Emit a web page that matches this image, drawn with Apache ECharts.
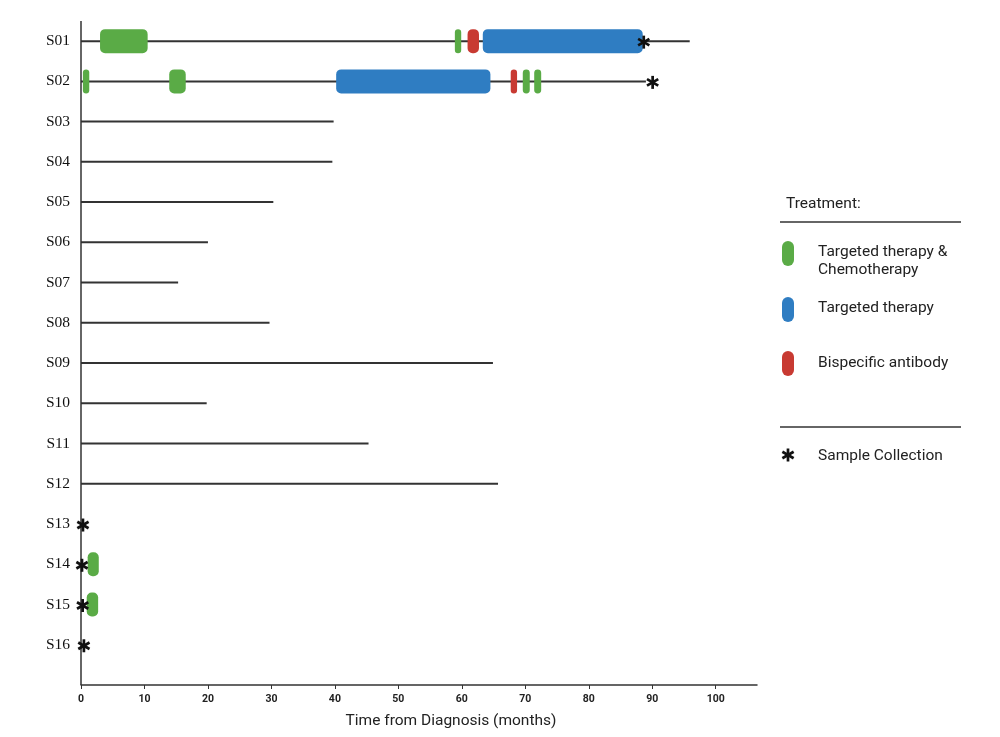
<!DOCTYPE html>
<html>
<head>
<meta charset="utf-8">
<script src="https://cdn.jsdelivr.net/npm/echarts@6/dist/echarts.min.js"></script>
<style>
html,body{margin:0;padding:0;background:#fff;}
#chart{width:1000px;height:737px;}
</style>
</head>
<body>
<div id="chart"></div>
<script>
// ---- data ----
const patients = ['S01','S02','S03','S04','S05','S06','S07','S08','S09','S10','S11','S12','S13','S14','S15','S16'];
const followUp = [95.9, 89.0, 39.8, 39.6, 30.3, 20.0, 15.3, 29.7, 64.9, 19.8, 45.3, 65.7, 0, 0, 0, 0];
const targetedChemo = [
  ['S01', 3.0, 10.5], ['S01', 58.9, 59.9],
  ['S02', 0.3, 1.3], ['S02', 13.9, 16.5], ['S02', 69.6, 70.7], ['S02', 71.4, 72.5],
  ['S14', 1.05, 2.8], ['S15', 0.9, 2.7]
];
const targeted = [['S01', 63.3, 88.5], ['S02', 40.2, 64.5]];
const bispecific = [['S01', 60.9, 62.7], ['S02', 67.7, 68.7]];
const samples = [['S01', 88.5], ['S02', 89.9], ['S13', 0.15], ['S14', 0.0], ['S15', 0.1], ['S16', 0.3]];
const xTicks = [0, 10, 20, 30, 40, 50, 60, 70, 80, 90, 100];

const GREEN = '#5AAB46', BLUE = '#2F7DC2', RED = '#C83A32';
const rowOf = name => patients.indexOf(name) + 1;

function barRender(color) {
  return function (params, api) {
    const row = api.value(0), s = api.value(1), e = api.value(2);
    const p0 = api.coord([s, row]), p1 = api.coord([e, row]);
    const h = 24, w = p1[0] - p0[0];
    return {
      type: 'rect',
      shape: { x: p0[0], y: p0[1] - h / 2, width: w, height: h, r: Math.min(5, w / 2) },
      style: { fill: color }
    };
  };
}
function starShape(cx, cy, len, lw) {
  const children = [];
  [90, 30, 150].forEach(a => {
    const r = a * Math.PI / 180, dx = Math.cos(r) * len / 2, dy = Math.sin(r) * len / 2;
    children.push({ type: 'line', shape: { x1: cx - dx, y1: cy - dy, x2: cx + dx, y2: cy + dy },
      style: { stroke: '#111', lineWidth: lw } });
  });
  return { type: 'group', children };
}

const chart = echarts.init(document.getElementById('chart'), null, { renderer: 'canvas' });
const legendFont = '15.5px Roboto';
chart.setOption({
  animation: false,
  grid: { left: 81, right: 243, top: 0.9, bottom: 52, containLabel: false },
  xAxis: {
    type: 'value', min: 0, max: 106.5,
    splitLine: { show: false },
    axisLine: { show: true, onZero: false, lineStyle: { color: '#333', width: 1.5 } },
    axisTick: { show: true, length: 4, customValues: xTicks, lineStyle: { color: '#333' } },
    axisLabel: { customValues: xTicks, color: '#222', fontFamily: 'Roboto', fontWeight: 'bold', fontSize: 10.5, margin: 9 },
    name: 'Time from Diagnosis (months)', nameLocation: 'middle', nameGap: 28,
    nameTextStyle: { color: '#222', fontFamily: 'Roboto', fontSize: 15.5, padding: [0, 0, 0, 64] }
  },
  yAxis: {
    type: 'value', min: 0, max: 17, interval: 1, inverse: true,
    splitLine: { show: false },
    axisLine: { show: false },
    axisTick: { show: false },
    axisLabel: {
      color: '#111', fontFamily: 'Liberation Serif', fontSize: 15.5, margin: 11,
      formatter: v => (v >= 1 && v <= patients.length ? patients[v - 1] : '')
    }
  },
  series: [
    { type: 'custom', name: 'yaxisline', silent: true, z: 3,
      data: [[0]],
      renderItem: (p, api) => {
        const a = api.coord([0, 0.5]), b = api.coord([0, 17]);
        return { type: 'line', shape: { x1: a[0], y1: a[1], x2: b[0], y2: b[1] }, style: { stroke: '#333', lineWidth: 1.5 } };
      } },
    { type: 'custom', name: 'timeline', z: 2,
      data: followUp.map((v, i) => [i + 1, v]),
      renderItem: (p, api) => {
        const row = api.value(0), x = api.value(1);
        if (!(x > 0)) return null;
        const a = api.coord([0, row]), b = api.coord([x, row]);
        return { type: 'line', shape: { x1: a[0], y1: a[1], x2: b[0], y2: b[1] }, style: { stroke: '#333', lineWidth: 2 } };
      } },
    { type: 'custom', name: 'Targeted therapy & Chemotherapy', z: 4,
      data: targetedChemo.map(d => [rowOf(d[0]), d[1], d[2]]), renderItem: barRender(GREEN) },
    { type: 'custom', name: 'Targeted therapy', z: 4,
      data: targeted.map(d => [rowOf(d[0]), d[1], d[2]]), renderItem: barRender(BLUE) },
    { type: 'custom', name: 'Bispecific antibody', z: 4,
      data: bispecific.map(d => [rowOf(d[0]), d[1], d[2]]), renderItem: barRender(RED) },
    { type: 'custom', name: 'Sample Collection', z: 6,
      data: samples.map(d => [rowOf(d[0]), d[1]]),
      renderItem: (p, api) => {
        const c = api.coord([api.value(1), api.value(0)]);
        return starShape(c[0] + 1, c[1] + 1, 13, 2.7);
      } }
  ],
  graphic: [
    { type: 'text', left: 786, top: 196, style: { text: 'Treatment:', font: legendFont, fill: '#222' } },
    { type: 'line', shape: { x1: 780, y1: 222, x2: 961, y2: 222 }, style: { stroke: '#333', lineWidth: 1.5 } },
    { type: 'rect', shape: { x: 782, y: 241, width: 12, height: 25, r: 6 }, style: { fill: GREEN } },
    { type: 'text', left: 818, top: 243, style: { text: 'Targeted therapy &\nChemotherapy', font: legendFont, fill: '#222', lineHeight: 18 } },
    { type: 'rect', shape: { x: 782, y: 297, width: 12, height: 25, r: 6 }, style: { fill: BLUE } },
    { type: 'text', left: 818, top: 300, style: { text: 'Targeted therapy', font: legendFont, fill: '#222' } },
    { type: 'rect', shape: { x: 782, y: 351, width: 12, height: 25, r: 6 }, style: { fill: RED } },
    { type: 'text', left: 818, top: 355, style: { text: 'Bispecific antibody', font: legendFont, fill: '#222' } },
    { type: 'line', shape: { x1: 780, y1: 427, x2: 961, y2: 427 }, style: { stroke: '#333', lineWidth: 1.5 } },
    starShape(788, 455, 13, 2.7),
    { type: 'text', left: 818, top: 448, style: { text: 'Sample Collection', font: legendFont, fill: '#222' } }
  ]
});
</script>
</body>
</html>
